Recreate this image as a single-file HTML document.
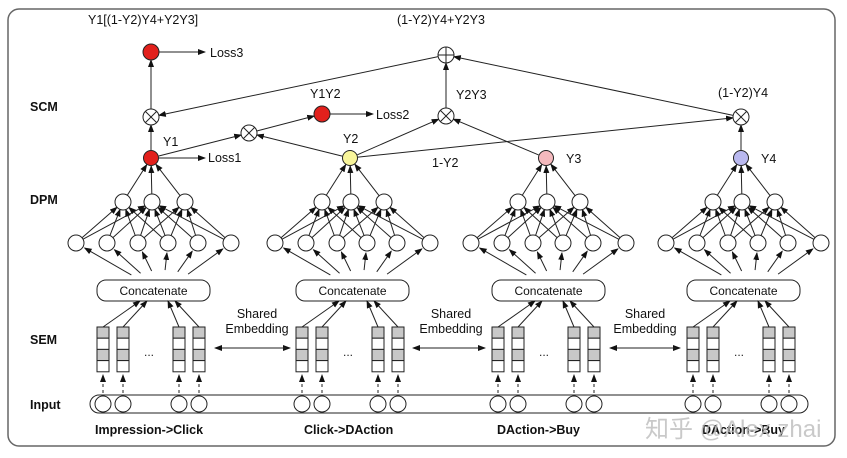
<!DOCTYPE html>
<html><head><meta charset="utf-8"><style>
html,body{margin:0;padding:0;background:#fff;}
svg{display:block;font-family:"Liberation Sans",Arial,sans-serif;}
</style></head><body>
<svg id="s" width="847" height="458" viewBox="0 0 847 458" xmlns="http://www.w3.org/2000/svg">
<defs><marker id="a" markerWidth="8" markerHeight="8" refX="7" refY="4" orient="auto" markerUnits="userSpaceOnUse"><path d="M0,1 L8,4 L0,7 z" fill="#111"/></marker></defs>
<rect x="8" y="9" width="827" height="437" rx="11" fill="none" stroke="#666" stroke-width="1.5"/>
<g id="g" stroke="#222" stroke-width="1" fill="none"></g>
<g font-size="12.5" fill="#111">
<text x="30" y="111" font-weight="bold">SCM</text>
<text x="30" y="204" font-weight="bold">DPM</text>
<text x="30" y="344" font-weight="bold">SEM</text>
<text x="30" y="409" font-weight="bold">Input</text>
<text x="88" y="24">Y1[(1-Y2)Y4+Y2Y3]</text>
<text x="397" y="24">(1-Y2)Y4+Y2Y3</text>
<text x="210" y="57">Loss3</text>
<text x="208" y="162">Loss1</text>
<text x="376" y="119">Loss2</text>
<text x="310" y="98">Y1Y2</text>
<text x="456" y="99">Y2Y3</text>
<text x="718" y="97">(1-Y2)Y4</text>
<text x="163" y="146">Y1</text>
<text x="343" y="143">Y2</text>
<text x="432" y="167">1-Y2</text>
<text x="566" y="163">Y3</text>
<text x="761" y="163">Y4</text>
<text x="95" y="434" font-weight="bold">Impression-&gt;Click</text>
<text x="304" y="434" font-weight="bold">Click-&gt;DAction</text>
<text x="497" y="434" font-weight="bold">DAction-&gt;Buy</text>
<text x="702" y="434" font-weight="bold">DAction-&gt;Buy</text>
</g>
<text x="645" y="437" font-size="24" fill="#bbb" fill-opacity="0.8" font-family="'Liberation Sans','Noto Sans CJK SC',sans-serif">知乎 @Alex zhai</text>
</svg>
<script>
var g=document.getElementById('g'),S='http://www.w3.org/2000/svg';
function el(t,a,p){var e=document.createElementNS(S,t);for(var k in a)e.setAttribute(k,a[k]);(p||g).appendChild(e);return e;}
function ln(x1,y1,x2,y2,arr,dash){var a={x1:x1,y1:y1,x2:x2,y2:y2};if(arr)a['marker-end']='url(#a)';if(dash)a['stroke-dasharray']='3,3';el('line',a);}
function arrowTo(x1,y1,x2,y2,r){var dx=x2-x1,dy=y2-y1,d=Math.hypot(dx,dy);ln(x1+dx/d*r,y1+dy/d*r,x2-dx/d*r,y2-dy/d*r,1);}
function circ(x,y,r,f){el('circle',{cx:x,cy:y,r:r,fill:f||'#fff'});}
function cross(x,y){circ(x,y,8);var d=5.5;ln(x-d,y-d,x+d,y+d);ln(x-d,y+d,x+d,y-d);}
function plus(x,y){circ(x,y,8);ln(x-8,y,x+8,y);ln(x,y-8,x,y+8);}
var cols=['#e2201c','#f8f59a','#f4b9bd','#b9b8ef'];
for(var t=0;t<4;t++){
 var o=[0,199,395,590][t];
 var ox=151+o,oy=158;
 var h2=[123+o,152+o,185+o],h1=[76,107,138,168,198,231].map(function(v){return v+o});
 for(var i=0;i<6;i++){var bx=140+o+i*8;arrowTo(bx,280,h1[i],243,10);}
 for(var i=0;i<6;i++)for(var j=0;j<3;j++){if(Math.abs(i/2.5-j)>1.3)continue;arrowTo(h1[i],243,h2[j],202,8);}
 for(var j=0;j<3;j++)arrowTo(h2[j],202,ox,oy,8);
 for(var i=0;i<6;i++)circ(h1[i],243,8);
 for(var j=0;j<3;j++)circ(h2[j],202,8);
 el('rect',{x:97+o,y:280,width:113,height:21,rx:9,fill:'#fff'});
 var tx=el('text',{x:153.5+o,y:295,'text-anchor':'middle','font-size':12,fill:'#111',stroke:'none'});tx.textContent='Concatenate';
 var cx=[97,117,173,193];
 for(var k=0;k<4;k++){var x=cx[k]+o;
  for(var c=0;c<4;c++)el('rect',{x:x,y:327+c*11.2,width:12,height:11.2,fill:c%2?'#fff':'#c8c8c8'});
  arrowTo(x+6,327,140+o+[0,1,4,5][k]*7,301,0);
  ln(x+6,393,x+6,375,1,1);
 }
 var d=el('text',{x:144+o,y:356,'font-size':12,fill:'#222',stroke:'none'});d.textContent='...';
}
el('rect',{x:90,y:395,width:718,height:18,rx:9,fill:'none'});
for(var t=0;t<4;t++){var o=[0,199,395,590][t];[103,123,179,199].forEach(function(v){circ(v+o,404,8);});}
[[215,290,257],[413,485,451],[610,680,645]].forEach(function(s){
 ln(s[0]+4,348,s[1],348,1);ln(s[1]-4,348,s[0],348,1);
 var a=el('text',{x:s[2],y:318,'text-anchor':'middle','font-size':12.5,fill:'#111',stroke:'none'});a.textContent='Shared';
 var b=el('text',{x:s[2],y:333,'text-anchor':'middle','font-size':12.5,fill:'#111',stroke:'none'});b.textContent='Embedding';
});
arrowTo(151,158,151,117,8);
arrowTo(151,117,151,52,8);
ln(159,52,205,52,1);ln(159,158,205,158,1);
arrowTo(151,158,249,133,8);
arrowTo(350,158,249,133,8);
arrowTo(249,133,322,114,8);
ln(330,114,373,114,1);
arrowTo(350,158,446,116,8);
arrowTo(546,158,446,116,8);
arrowTo(446,116,446,55,8);
arrowTo(350,158,741,117,8);
arrowTo(741,158,741,117,8);
arrowTo(741,117,446,55,8);
arrowTo(446,55,151,117,8);
circ(151,52,8,'#e2201c');circ(322,114,8,'#e2201c');
cross(151,117);cross(249,133);cross(446,116);cross(741,117);plus(446,55);
circ(151,158,7.5,cols[0]);circ(350,158,7.5,cols[1]);circ(546,158,7.5,cols[2]);circ(741,158,7.5,cols[3]);
</script>
</body></html>
